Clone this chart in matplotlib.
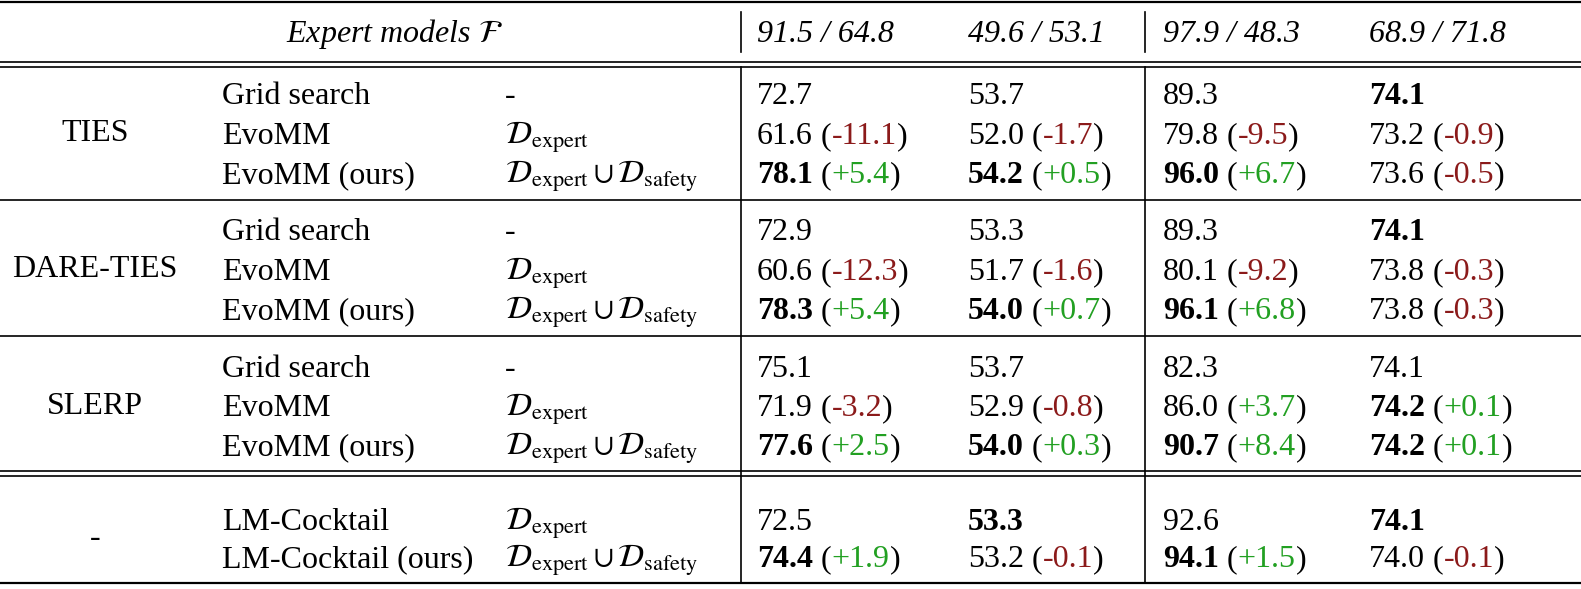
import matplotlib
matplotlib.use("Agg")
import matplotlib.pyplot as plt

plt.rcParams['font.family'] = ['Liberation Serif', 'DejaVu Serif']
plt.rcParams['mathtext.fontset'] = 'stix'

W, H = 1581, 589
FS = 23

expert_header = ["91.5 / 64.8", "49.6 / 53.1", "97.9 / 48.3", "68.9 / 71.8"]
groups = ["TIES", "DARE-TIES", "SLERP", "-"]
methods = [
    ["Grid search", "EvoMM", "EvoMM (ours)"],
    ["Grid search", "EvoMM", "EvoMM (ours)"],
    ["Grid search", "EvoMM", "EvoMM (ours)"],
    ["LM-Cocktail", "LM-Cocktail (ours)"],
]
data_used = [
    ["-", "E", "ES"], ["-", "E", "ES"], ["-", "E", "ES"], ["E", "ES"],
]
# (value, delta or None, bold)
values = [
    [[(72.7, None, 0), (53.7, None, 0), (89.3, None, 0), (74.1, None, 1)],
     [(61.6, -11.1, 0), (52.0, -1.7, 0), (79.8, -9.5, 0), (73.2, -0.9, 0)],
     [(78.1, 5.4, 1), (54.2, 0.5, 1), (96.0, 6.7, 1), (73.6, -0.5, 0)]],
    [[(72.9, None, 0), (53.3, None, 0), (89.3, None, 0), (74.1, None, 1)],
     [(60.6, -12.3, 0), (51.7, -1.6, 0), (80.1, -9.2, 0), (73.8, -0.3, 0)],
     [(78.3, 5.4, 1), (54.0, 0.7, 1), (96.1, 6.8, 1), (73.8, -0.3, 0)]],
    [[(75.1, None, 0), (53.7, None, 0), (82.3, None, 0), (74.1, None, 0)],
     [(71.9, -3.2, 0), (52.9, -0.8, 0), (86.0, 3.7, 0), (74.2, 0.1, 1)],
     [(77.6, 2.5, 1), (54.0, 0.3, 1), (90.7, 8.4, 1), (74.2, 0.1, 1)]],
    [[(72.5, None, 0), (53.3, None, 1), (92.6, None, 0), (74.1, None, 1)],
     [(74.4, 1.9, 1), (53.2, -0.1, 0), (94.1, 1.5, 1), (74.0, -0.1, 0)]],
]
data_tex = {"-": "-", "E": r"$\mathcal{D}_{\rm expert}$",
            "ES": r"$\mathcal{D}_{\rm expert}\cup\mathcal{D}_{\rm safety}$"}

row_y = [[94, 134, 173], [230, 270, 309], [367, 406, 445], [520, 557]]
col_x = [757, 968, 1163, 1369]
RED, GREEN = '#8b1a1a', '#22a022'

fig = plt.figure(figsize=(W / 100, H / 100), dpi=100)
ax = fig.add_axes([0, 0, 1, 1])
ax.set_xlim(0, W)
ax.set_ylim(H, 0)
ax.axis('off')
rend = fig.canvas.get_renderer()


def hline(y, lw=1.2):
    ax.plot([0, W], [y, y], color='black', lw=lw)


hline(2, 1.6)
hline(62); hline(67)
hline(200); hline(336)
hline(471); hline(476)
hline(583, 1.6)
for x in (741, 1145):
    ax.plot([x, x], [12, 52], color='black', lw=1.2)
    ax.plot([x, x], [67, 583], color='black', lw=1.2)

ax.text(395, 34, r"Expert models $\mathcal{F}$", style='italic', fontsize=FS,
        ha='center', va='center')
for x, t in zip(col_x, expert_header):
    ax.text(x, 34, t, style='italic', fontsize=FS, ha='left', va='center')


def pieces(x, y, parts):
    for txt, col, bold in parts:
        t = ax.text(x, y, txt, fontsize=FS, color=col, ha='left', va='baseline',
                    fontweight='bold' if bold else 'normal')
        bb = t.get_window_extent(renderer=rend)
        x += bb.width * W / fig.bbox.width


for g, name in enumerate(groups):
    ys = row_y[g]
    ax.text(95, sum(ys) / len(ys), name, fontsize=FS, ha='center', va='center')
    for r, y in enumerate(ys):
        base = y + 10
        ax.text(222, base, methods[g][r], fontsize=FS, ha='left', va='baseline')
        ax.text(505, base, data_tex[data_used[g][r]], fontsize=FS, ha='left', va='baseline')
        for c, (v, d, b) in enumerate(values[g][r]):
            parts = [(f"{v:.1f}", 'black', b)]
            if d is not None:
                parts += [(" (", 'black', 0),
                          (f"{d:+.1f}", GREEN if d > 0 else RED, 0),
                          (")", 'black', 0)]
            pieces(col_x[c], base, parts)

fig.savefig("out.png", dpi=100)
